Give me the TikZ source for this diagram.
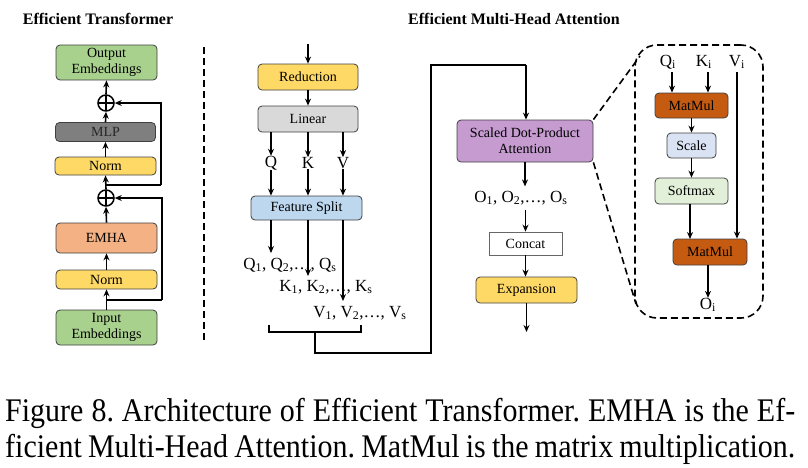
\documentclass[tikz,border=0pt]{standalone}
\usepackage{fontspec}
\setmainfont{Liberation Serif}
\usetikzlibrary{arrows.meta,calc}
\definecolor{cgreen}{HTML}{A9D18E}
\definecolor{cgray}{HTML}{7F7F7F}
\definecolor{cyellow}{HTML}{FFD966}
\definecolor{corange}{HTML}{F4B183}
\definecolor{clgray}{HTML}{D9D9D9}
\definecolor{cblue}{HTML}{BDD7EE}
\definecolor{cpurple}{HTML}{C59BD0}
\definecolor{cmat}{HTML}{C55A11}
\definecolor{cscale}{HTML}{DAE3F3}
\definecolor{csoft}{HTML}{E2F0D9}
\tikzset{
  box/.style={draw=black!75, line width=0.8pt, rounded corners=4pt, inner sep=0pt,
    align=center, font=\fontsize{14}{16}\selectfont},
  arr/.style={line width=1.6pt, -{Stealth[length=7pt,width=6pt]}},
  ln/.style={line width=1.6pt},
  lbl/.style={inner sep=0pt, font=\fontsize{17}{17}\selectfont},
  ttl/.style={inner sep=0pt, font=\fontsize{16}{16}\selectfont\bfseries},
  plus/.style={circle, draw, line width=1.5pt, minimum size=16pt, inner sep=0pt,
    path picture={\draw[line width=1.5pt] (path picture bounding box.north) -- (path picture bounding box.south)
      (path picture bounding box.west) -- (path picture bounding box.east);}},
  dsh/.style={line width=1.6pt, dash pattern=on 7pt off 4pt},
  captext/.style={anchor=base west, inner sep=0pt, font=\fontsize{30}{36}\selectfont},
}
\begin{document}
\begin{tikzpicture}[x=1pt,y=-1pt]
\useasboundingbox (0,0) rectangle (808,467);
% titles
\node[ttl] (t1) at (98,19) {Efficient Transformer};
\node[ttl] (t2) at (514,19) {Efficient Multi-Head Attention};
% ---------- left panel ----------
\node[box, fill=cgreen, minimum width=101pt, minimum height=35pt] (out) at (106.5,62.5) {Output\\Embeddings};
\node[plus] (p1) at (106,103) {};
\node[box, fill=cgray, minimum width=100pt, minimum height=19pt, text=black!85] (mlp) at (105.5,132) {MLP};
\node[box, fill=cyellow, minimum width=101pt, minimum height=18pt] (n1) at (105.5,166) {Norm};
\node[plus] (p2) at (106,198) {};
\node[box, fill=corange, minimum width=101pt, minimum height=30pt] (emha) at (106.5,238) {EMHA};
\node[box, fill=cyellow, minimum width=101pt, minimum height=19pt] (n2) at (106.5,279.5) {Norm};
\node[box, fill=cgreen, minimum width=101pt, minimum height=35pt] (inp) at (106.5,327.5) {Input\\Embeddings};
\coordinate (b1) at (106,300);
\coordinate (r1) at (162,300);
\coordinate (b2) at (106,185);
\coordinate (r2) at (161,185);
\draw[arr] (inp.north) -- (n2.south);
\draw[arr] (n2.north) -- (emha.south);
\draw[arr] (emha.north) -- (p2.south);
\draw[arr] (p2.north) -- (n1.south);
\draw[arr] (n1.north) -- (mlp.south);
\draw[arr] (mlp.north) -- (p1.south);
\draw[arr] (p1.north) -- (out.south);
\draw[ln] (b1) -- (r1);
\draw[arr] (r1) |- (p2.east);
\draw[ln] (b2) -- (r2);
\draw[arr] (r2) |- (p1.east);
% divider
\coordinate (d1) at (204,47);
\coordinate (d2) at (204,342);
\draw[dsh] (d1) -- (d2);
% ---------- middle panel ----------
\coordinate (in) at (308,44);
\node[box, fill=cyellow, minimum width=100pt, minimum height=26pt] (red) at (308,77) {Reduction};
\node[box, fill=clgray, minimum width=100pt, minimum height=26pt] (lin) at (308,119) {Linear};
\node[lbl] (Q) at (271,163) {Q};
\node[lbl] (K) at (308,163) {K};
\node[lbl] (V) at (343,163) {V};
\node[box, fill=cblue, minimum width=111pt, minimum height=24pt] (fs) at (306.5,208) {Feature Split};
\node[lbl] (qs) at (290,265) {Q\textsubscript{1}, Q\textsubscript{2},…, Q\textsubscript{s}};
\node[lbl] (ks) at (326,287) {K\textsubscript{1}, K\textsubscript{2},…, K\textsubscript{s}};
\node[lbl] (vs) at (360,313) {V\textsubscript{1}, V\textsubscript{2},…, V\textsubscript{s}};
\draw[arr] (in) -- (red.north);
\draw[arr] (red.south) -- (lin.south |- lin.north);
\draw[arr] (lin.south -| Q) -- (Q.north);
\draw[arr] (lin.south -| K) -- (K.north);
\draw[arr] (lin.south -| V) -- (V.north);
\draw[arr] (Q.south) -- (Q.south |- fs.north);
\draw[arr] (K.south) -- (K.south |- fs.north);
\draw[arr] (V.south) -- (V.south |- fs.north);
\coordinate (qe) at (271,253);
\coordinate (ke) at (308,276);
\coordinate (ve) at (343,301);
\draw[arr] (fs.south -| qe) -- (qe);
\draw[arr] (fs.south -| ke) -- (ke);
\draw[arr] (fs.south -| ve) -- (ve);
% bracket and route
\coordinate (bl) at (269,325);
\coordinate (br) at (361,325);
\coordinate (bm) at (315,332);
\coordinate (bd) at (315,353);
\coordinate (rx) at (431,353);
\coordinate (ry) at (431,65);
\coordinate (rz) at (526,65);
\draw[ln, line width=1.4pt] (bl) -- (bl |- bm) -- (br |- bm) -- (br);
\draw[ln] (bm) -- (bd) -- (rx) -- (ry) -- (rz);
\node[box, fill=cpurple, minimum width=136pt, minimum height=42pt] (sdpa) at (525,141) {Scaled Dot-Product\\Attention};
\draw[arr] (rz) -- (rz |- sdpa.north);
\node[lbl] (os) at (521,198) {O\textsubscript{1}, O\textsubscript{2},…, O\textsubscript{s}};
\node[box, rounded corners=0pt, draw=black!60, fill=white, minimum width=73pt, minimum height=23pt] (conc) at (525.5,243.5) {Concat};
\node[box, fill=cyellow, minimum width=101pt, minimum height=26pt] (exp) at (526.5,290) {Expansion};
\coordinate (oend) at (526.5,332);
\draw[arr] (sdpa.south) -- ($(sdpa.south)+(0,24)$) coordinate (oa);
\draw[arr] ($(conc.north)+(0,-22)$) coordinate (ob) -- (conc.north);
\draw[arr] (conc.south) -- (conc.south |- exp.north);
\draw[arr] (exp.south) -- (oend);
% ---------- zoom panel ----------
\node[draw, dsh, rounded corners=22pt, minimum width=128pt, minimum height=273pt, inner sep=0pt] (zb) at (699,181.5) {};
\coordinate (z1) at (640,56);
\coordinate (z2) at (636,304);
\draw[dsh] (sdpa.north east) -- (z1);
\draw[dsh] (sdpa.south east) -- (z2);
\node[lbl] (Qi) at (668,62) {Q\textsubscript{i}};
\node[lbl] (Ki) at (704,62) {K\textsubscript{i}};
\node[lbl] (Vi) at (737,62) {V\textsubscript{i}};
\node[box, fill=cmat, minimum width=73pt, minimum height=25pt] (mm1) at (691.5,105.5) {MatMul};
\node[box, fill=cscale, minimum width=49pt, minimum height=25pt] (sc) at (691.5,145.5) {Scale};
\node[box, fill=csoft, minimum width=73pt, minimum height=26pt] (sm) at (691.5,191) {Softmax};
\node[box, fill=cmat, minimum width=74pt, minimum height=26pt] (mm2) at (710,252) {MatMul};
\node[lbl] (Oi) at (708,305) {O\textsubscript{i}};
\coordinate (qx) at (672,72);
\coordinate (kx) at (708,72);
\coordinate (vx) at (737,72);
\draw[arr] (qx) -- (qx |- mm1.north);
\draw[arr] (kx) -- (kx |- mm1.north);
\draw[arr] (mm1.south) -- (sc.north);
\draw[arr] (sc.south) -- (sm.north);
\draw[arr] (sm.south -| 690,0) -- (690,239);
\draw[arr] (vx) -- (vx |- mm2.north);
\draw[arr] (mm2.south -| Oi) -- (Oi.north);
% ---------- caption ----------
\node[captext] (c1) at (5,421)
  {\frenchspacing\scalebox{1}[1.1]{\makebox[790pt][s]{Figure 8. Architecture of Efficient Transformer. EMHA is the Ef-}}};
\node[captext] (c2) at (5,457)
  {\frenchspacing\scalebox{1}[1.1]{\makebox[790pt][s]{ficient Multi-Head Attention. MatMul is the matrix multiplication.}}};
\end{tikzpicture}
\end{document}
